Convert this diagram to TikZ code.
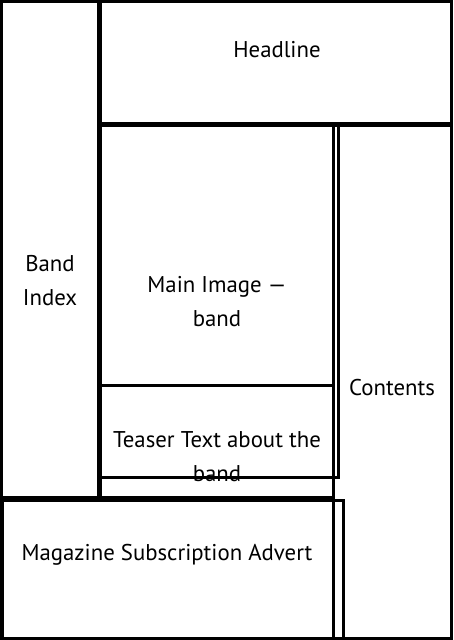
\documentclass[tikz,border=0pt]{standalone}
\usepackage{fontspec}
\setmainfont{PT Sans}
\begin{document}
\begin{tikzpicture}[x=1pt, y=-1pt,
    heavy/.style={line width=5pt},
    light/.style={line width=3pt},
    lbl/.style={font=\fontsize{22.8}{34}\selectfont, align=center, inner sep=0pt}]
    \useasboundingbox (0,0) rectangle (453,640);

    % Page corners (pixel grid, y downwards)
    \coordinate (pg1) at (1.5,1.5);
    \coordinate (pg2) at (451.5,638.5);

    % Frame and heavy rules
    \draw[line width=3.2pt] (pg1) rectangle (pg2);
    \draw[heavy] (99,0) -- (99,498); % band index edge
    \draw[heavy] (0,498) -- (335,498);
    \draw[heavy] (97,124) -- (453,124); % under headline
    \draw[line width=3.4pt] (333.5,124) -- (333.5,640); % contents edge

    % Lighter boxes
    \draw[light] (100.5,124) rectangle (338.5,477); % main image
    \draw[light] (100.5,385) -- (333,385); % teaser top
    \draw[light] (2,500) rectangle (343,640); % advert

    % Labels
    \node[lbl] (head) at (277,50) {Headline};
    \node[lbl] (idx) at (50,281) {Band\\Index};
    \node[lbl] (img) at (217,302) {Main Image —\\band};
    \node[lbl] (cont) at (392,388) {Contents};
    \node[lbl] (teas) at (217,457) {Teaser Text about the\\band};
    \node[lbl] (ad) at (167,555) {Magazine Subscription Advert};
\end{tikzpicture}
\end{document}
